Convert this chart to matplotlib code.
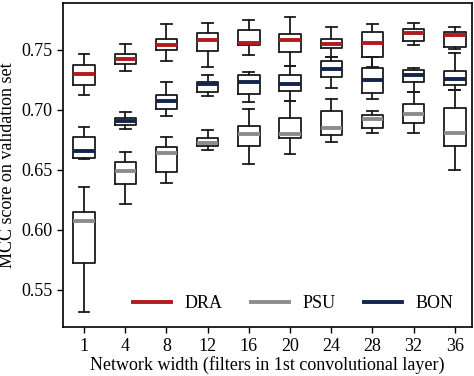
import matplotlib
matplotlib.use("Agg")
import matplotlib.pyplot as plt
from matplotlib.lines import Line2D

plt.rcParams['font.family'] = ['Liberation Serif', 'DejaVu Serif']

widths = ["1", "4", "8", "12", "16", "20", "24", "28", "32", "36"]

# per width: whisker low, q1, median, q3, whisker high
dra_lo  = [0.7125, 0.7325, 0.741, 0.736, 0.7458, 0.7367, 0.744, 0.736, 0.754, 0.751]
dra_q1  = [0.721, 0.738, 0.750, 0.749, 0.754, 0.748, 0.7517, 0.744, 0.7575, 0.7525]
dra_med = [0.730, 0.7425, 0.754, 0.758, 0.7558, 0.758, 0.755, 0.7558, 0.764, 0.7625]
dra_q3  = [0.7375, 0.7467, 0.759, 0.764, 0.7667, 0.763, 0.759, 0.765, 0.7675, 0.765]
dra_hi  = [0.7467, 0.755, 0.7717, 0.7725, 0.775, 0.7775, 0.769, 0.7717, 0.7725, 0.769]

psu_lo  = [0.532, 0.6217, 0.639, 0.6667, 0.655, 0.6633, 0.673, 0.681, 0.681, 0.650]
psu_q1  = [0.5725, 0.638, 0.648, 0.670, 0.670, 0.6767, 0.679, 0.685, 0.689, 0.670]
psu_med = [0.607, 0.649, 0.664, 0.6725, 0.680, 0.680, 0.685, 0.6925, 0.6967, 0.681]
psu_q3  = [0.615, 0.6567, 0.669, 0.6767, 0.6867, 0.6933, 0.699, 0.696, 0.705, 0.7017]
psu_hi  = [0.636, 0.665, 0.677, 0.683, 0.7008, 0.7075, 0.709, 0.699, 0.715, 0.7167]

bon_lo  = [0.659, 0.684, 0.695, 0.7117, 0.7067, 0.7075, 0.718, 0.709, 0.715, 0.7167]
bon_q1  = [0.660, 0.6875, 0.7008, 0.715, 0.7133, 0.7158, 0.7275, 0.714, 0.7233, 0.721]
bon_med = [0.666, 0.691, 0.7075, 0.7217, 0.7233, 0.7217, 0.734, 0.725, 0.729, 0.7258]
bon_q3  = [0.677, 0.693, 0.7125, 0.723, 0.729, 0.729, 0.741, 0.735, 0.733, 0.7325]
bon_hi  = [0.686, 0.698, 0.7233, 0.729, 0.7317, 0.7367, 0.744, 0.744, 0.735, 0.7475]

series = [
    ("DRA", "#b01c1c", dra_lo, dra_q1, dra_med, dra_q3, dra_hi),
    ("PSU", "#8c8c8c", psu_lo, psu_q1, psu_med, psu_q3, psu_hi),
    ("BON", "#13244d", bon_lo, bon_q1, bon_med, bon_q3, bon_hi),
]

fig = plt.figure(figsize=(4.74, 3.76), dpi=100)
ax = fig.add_axes([0.133, 0.130, 0.863, 0.862])

pos = list(range(1, len(widths) + 1))
handles = []
for name, col, lo, q1, med, q3, hi in series:
    stats = []
    for i in range(len(widths)):
        stats.append(dict(whislo=lo[i], q1=q1[i], med=med[i], q3=q3[i],
                          whishi=hi[i], fliers=[]))
    ax.bxp(stats, positions=pos, widths=0.52, showfliers=False,
           boxprops=dict(color="#1a1a1a", linewidth=1.3),
           whiskerprops=dict(color="#1a1a1a", linewidth=1.3),
           capprops=dict(color="#1a1a1a", linewidth=1.3),
           medianprops=dict(color=col, linewidth=2.8))
    handles.append(Line2D([], [], color=col, linewidth=2.8, label=name))

ax.set_xticks(pos)
ax.set_xticklabels(widths)
ax.set_xlim(0.49, 10.42)
ax.set_ylim(0.519, 0.789)
ax.set_yticks([0.55, 0.60, 0.65, 0.70, 0.75])
ax.set_yticklabels(["0.55", "0.60", "0.65", "0.70", "0.75"])
ax.tick_params(labelsize=13, direction="out", length=4, width=1)
ax.set_xlabel("Network width (filters in 1st convolutional layer)", fontsize=13, labelpad=1)
ax.set_ylabel("MCC score on validation set", fontsize=13, labelpad=4)
for s in ax.spines.values():
    s.set_linewidth(1.2)

ax.legend(handles=handles, loc="lower right", ncol=3, frameon=False,
          fontsize=13, handlelength=2.1, handletextpad=0.75, columnspacing=1.6,
          bbox_to_anchor=(0.995, -0.005))

fig.savefig("out.png", dpi=100)
